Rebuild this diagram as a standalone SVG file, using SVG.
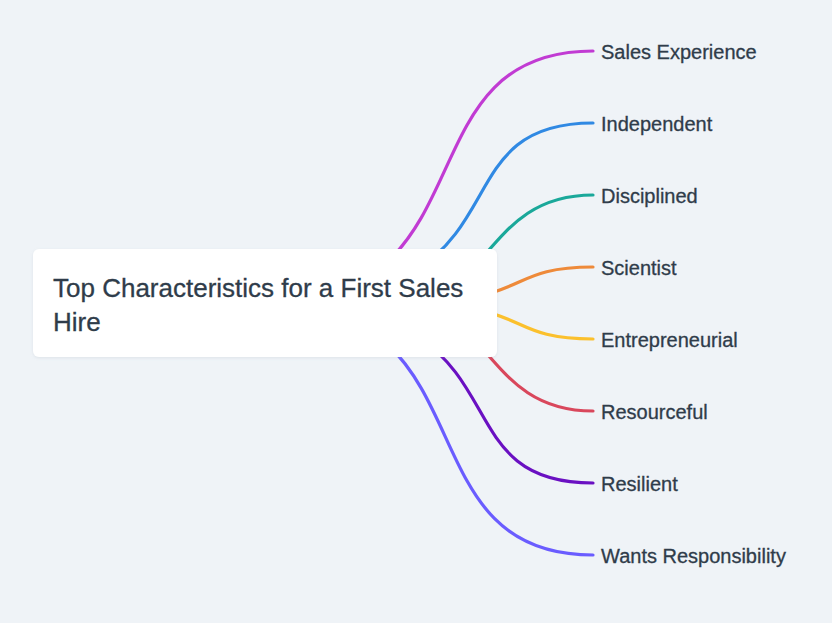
<svg xmlns="http://www.w3.org/2000/svg" width="832" height="623" viewBox="0 0 832 623">
  <defs>
    <filter id="shadow" x="-5%" y="-10%" width="110%" height="130%">
      <feDropShadow dx="0" dy="1" stdDeviation="1.5" flood-color="#8a99a8" flood-opacity="0.18"/>
    </filter>
    <style>
      .link { fill: none; stroke-width: 3.2; stroke-linecap: round; }
      .label { font-family: "Liberation Sans", Arial, sans-serif; font-size: 20px; fill: #2f3c4a; stroke: #2f3c4a; stroke-width: 0.3; }
      .title { font-family: "Liberation Sans", Arial, sans-serif; font-size: 26px; fill: #2f3c4a; stroke: #2f3c4a; stroke-width: 0.3; }
    </style>
  </defs>
  <rect x="0" y="0" width="832" height="623" fill="#eff3f7"/>

  <g id="connectors">
    <path class="link" stroke="#c13bd3" d="M265 303 C494 303 398 51 593 51"/>
    <path class="link" stroke="#3089e3" d="M265 303 C538 303 428 123 593 123"/>
    <path class="link" stroke="#1aa89a" d="M400 303 C490 303 485 195 593 195"/>
    <path class="link" stroke="#ee8a3a" d="M400 303 C533 303 502 267 593 267"/>
    <path class="link" stroke="#fbc02d" d="M400 303 C533 303 502 339 593 339"/>
    <path class="link" stroke="#d9475c" d="M400 303 C490 303 485 411 593 411"/>
    <path class="link" stroke="#6a10c2" d="M265 303 C538 303 428 483 593 483"/>
    <path class="link" stroke="#6a5cff" d="M265 303 C494 303 398 555 593 555"/>
  </g>

  <g id="root">
    <rect x="33" y="249" width="464" height="108" rx="6" fill="#ffffff" filter="url(#shadow)"/>
    <text class="title" x="53" y="297">Top Characteristics for a First Sales</text>
    <text class="title" x="53" y="331">Hire</text>
  </g>

  <g id="n-sales-experience"><text class="label" x="601" y="58.5">Sales Experience</text></g>
  <g id="n-independent"><text class="label" x="601" y="130.5">Independent</text></g>
  <g id="n-disciplined"><text class="label" x="601" y="202.5">Disciplined</text></g>
  <g id="n-scientist"><text class="label" x="601" y="274.5">Scientist</text></g>
  <g id="n-entrepreneurial"><text class="label" x="601" y="346.5">Entrepreneurial</text></g>
  <g id="n-resourceful"><text class="label" x="601" y="418.5">Resourceful</text></g>
  <g id="n-resilient"><text class="label" x="601" y="490.5">Resilient</text></g>
  <g id="n-wants-responsibility"><text class="label" x="601" y="562.5">Wants Responsibility</text></g>
</svg>
